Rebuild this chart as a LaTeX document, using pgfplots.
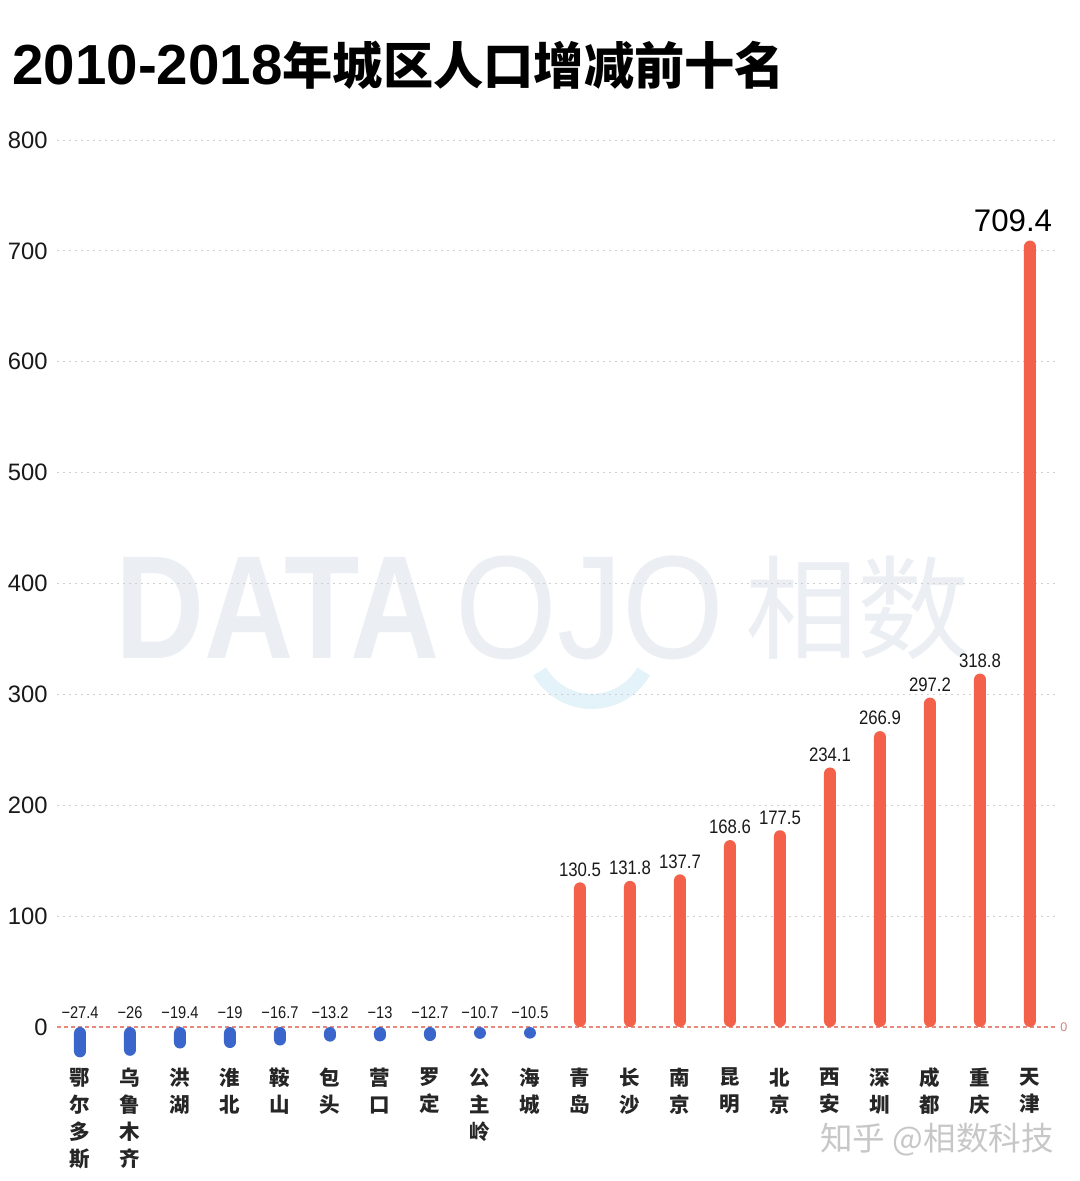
\documentclass[border=0pt]{standalone}
\usepackage{fontspec}
\usepackage{pgfplots}
\usepackage{pgfplotstable}
\pgfplotsset{compat=1.18}
\setmainfont{Liberation Sans}
\newfontfamily\cjk{Noto Sans CJK SC}
\newfontfamily\narrownum[FakeStretch=0.86]{Liberation Sans}

\definecolor{riseC}{HTML}{F4614A}
\definecolor{fallC}{HTML}{3A66CC}
\definecolor{gridC}{HTML}{D0D0D0}
\definecolor{zeroC}{HTML}{E8887A}
\definecolor{markC}{HTML}{EBEFF4}
\definecolor{smileC}{HTML}{E4F2F9}

% population change 2010-2018, ten largest declines
\pgfplotstableread{
x v
0 -27.4
1 -26
2 -19.4
3 -19
4 -16.7
5 -13.2
6 -13
7 -12.7
8 -10.7
9 -10.5
}\fall
% ten largest gains (Tianjin kept apart for its larger label)
\pgfplotstableread{
x v
10 130.5
11 131.8
12 137.7
13 168.6
14 177.5
15 234.1
16 266.9
17 297.2
18 318.8
}\rise
\pgfplotstableread{
x v
19 709.4
}\tianjin

\begin{document}
\begin{tikzpicture}[x=1pt,y=1pt]
% page frame and decorations, laid out from the page's lower left corner;
% the axis origin (0,0) sits at (32pt,61.6pt) of that frame
\begin{scope}[shift={(-32pt,-61.6pt)}]
\useasboundingbox (0,0) rectangle (432,472.4);

% brand watermark behind the chart
\node[anchor=west, inner sep=0pt, text=markC, font=\bfseries\fontsize{58.8}{58.8}\selectfont] at (46,229.2) {\scalebox{0.84}[1]{DATA}};
\node[anchor=west, inner sep=0pt, text=markC, font=\fontsize{58.8}{58.8}\selectfont] at (182,229.2) {\scalebox{0.89}[1]{OJO}};
\node[anchor=west, inner sep=0pt, text=markC, font=\cjk\fontsize{45}{45}\selectfont] at (298,229.2) {相数};
\draw[smileC, line width=6pt] (215.9,203.8) arc[start angle=210, end angle=330, radius=24];

% title
\node[anchor=base west, inner sep=0pt] at (4.8,438.4)
  {{\bfseries\fontsize{22.6}{23}\selectfont 2010-2018}{\cjk\bfseries\fontsize{20.1}{21}\selectfont 年城区人口增减前十名}};

% platform watermark
\node[inner sep=0pt, font=\cjk\fontsize{13}{13}\selectfont, text=black!22] at (374.8,16.4) {知乎 @相数科技};
\end{scope}

\begin{axis}[
  anchor=origin,
  scale only axis, width=399.2pt, height=370.3pt,
  xmin=-0.46, xmax=19.5, ymin=-35, ymax=800,
  clip=false,
  axis line style={draw=none},
  tick style={draw=none},
  ytick={100,200,...,800},
  extra y ticks={0},
  extra y tick style={ymajorgrids=true, major grid style={zeroC, dash pattern=on 1.6pt off 1.2pt, line width=0.5pt}},
  ymajorgrids,
  major grid style={gridC, dash pattern=on 1pt off 1.4pt, line width=0.4pt},
  xtick={0,...,19},
  xticklabels={{鄂\\尔\\多\\斯},{乌\\鲁\\木\\齐},{洪\\湖},{淮\\北},{鞍\\山},{包\\头},{营\\口},{罗\\定},{公\\主\\岭},{海\\城},{青\\岛},{长\\沙},{南\\京},{昆\\明},{北\\京},{西\\安},{深\\圳},{成\\都},{重\\庆},{天\\津}},
  xticklabel style={font=\cjk\bfseries\fontsize{8.2}{10.8}\selectfont, text=black!85, align=center, anchor=north, inner sep=0pt, yshift=-0.6pt},
  yticklabel style={font=\fontsize{9.5}{10}\selectfont, inner sep=0pt, xshift=-3.6pt, text=black!90},
  /pgf/number format/.cd, fixed, precision=1, assume math mode=true,
]

% declines
\addplot[ybar, bar width=4.8pt, bar shift=0pt, fill=fallC, draw=none, rounded corners=2.4pt]
  table[x=x, y=v] {\fall};
% their values, written just above the zero line
\addplot[draw=none, mark=none, point meta={-\thisrow{v}},
  nodes near coords={−\pgfmathprintnumber{\pgfplotspointmeta}},
  nodes near coords style={font=\narrownum\fontsize{6.8}{7}\selectfont, anchor=south, inner sep=0pt, yshift=3.2pt, text=black!90}]
  table[x=x, y expr=0] {\fall};

% gains
\addplot[ybar, bar width=4.8pt, bar shift=0pt, fill=riseC, draw=none, rounded corners=2.4pt,
  nodes near coords,
  nodes near coords style={font=\narrownum\fontsize{7.8}{8}\selectfont, anchor=south, inner sep=0pt, yshift=2.2pt, text=black!90}]
  table[x=x, y=v] {\rise};
\addplot[ybar, bar width=4.8pt, bar shift=0pt, fill=riseC, draw=none, rounded corners=2.4pt,
  nodes near coords,
  nodes near coords style={font=\fontsize{12.5}{13}\selectfont, anchor=south, inner sep=0pt, yshift=3.4pt, xshift=-6.8pt, text=black}]
  table[x=x, y=v] {\tianjin};

\node[anchor=west, inner sep=0pt, font=\fontsize{5}{5}\selectfont, text=zeroC!70!gray] at (axis cs:19.5,0) [xshift=2pt] {0};
\end{axis}
\end{tikzpicture}
\end{document}
